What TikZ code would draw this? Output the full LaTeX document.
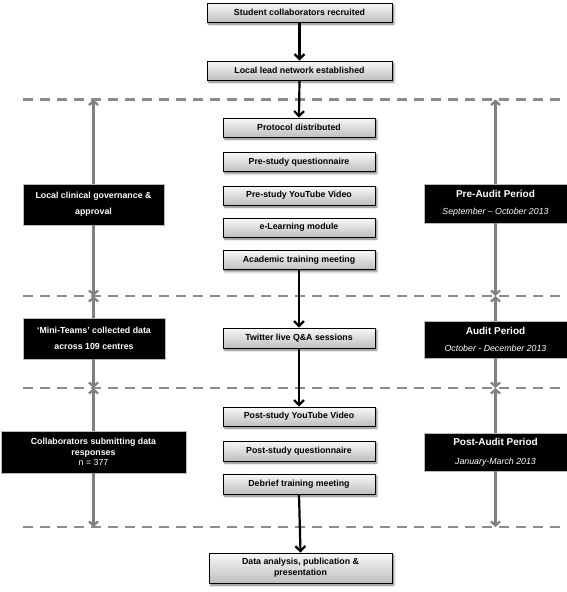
\documentclass[tikz,border=0pt]{standalone}
\usepackage{fontspec}
\setmainfont{Liberation Sans}
\usetikzlibrary{arrows.meta,shadows.blur}
\tikzset{
 cbox/.style={draw=black, line width=0.8pt, top color=gray!6, bottom color=gray!50,
   font=\fontsize{8.8}{11}\selectfont\bfseries, align=center, inner sep=0pt,
   blur shadow={shadow xshift=1.8pt, shadow yshift=-2pt, shadow blur steps=4, shadow opacity=55}},
 bbox/.style={fill=black, draw=gray!55, line width=0.6pt, text=white, align=center, inner sep=0pt},
 dline/.style={draw=gray!90, line width=2.5pt, dash pattern=on 10pt off 7pt},
 garrow/.style={draw=gray, line width=2.3pt, -{Straight Barb[length=4pt,width=9pt]}},
 karrow/.style={draw=black, line width=2.2pt, -{Straight Barb[length=5pt,width=10pt]}},
}
\begin{document}
\begin{tikzpicture}[x=1pt,y=-1pt]
\useasboundingbox (0,0) rectangle (567,592);
% dashed period separators
\coordinate (d1a) at (23,99.5);  \coordinate (d1b) at (570,99.5);
\coordinate (d2a) at (23,296);   \coordinate (d2b) at (570,296);
\coordinate (d3a) at (23,388);   \coordinate (d3b) at (570,388);
\coordinate (d4a) at (23,527);   \coordinate (d4b) at (570,527);
\draw[dline] (d1a) -- (d1b);
\draw[dline] (d2a) -- (d2b);
\draw[dline] (d3a) -- (d3b);
\draw[dline] (d4a) -- (d4b);
% central boxes
\node[cbox, minimum width=185pt, minimum height=19pt] (b1) at (299.5,12.5) {Student collaborators recruited};
\node[cbox, minimum width=185pt, minimum height=19pt] (b2) at (299.5,70.5) {Local lead network established};
\node[cbox, minimum width=152pt, minimum height=19pt] (b3) at (299,127.5) {Protocol distributed};
\node[cbox, minimum width=152pt, minimum height=19pt] (b4) at (299,162) {Pre-study questionnaire};
\node[cbox, minimum width=152pt, minimum height=19pt] (b5) at (299,195.5) {Pre-study YouTube Video};
\node[cbox, minimum width=152pt, minimum height=19pt] (b6) at (299,227.5) {e-Learning module};
\node[cbox, minimum width=152pt, minimum height=19pt] (b7) at (299,260) {Academic training meeting};
\node[cbox, minimum width=152pt, minimum height=20pt] (b8) at (299,338) {Twitter live Q\&A sessions};
\node[cbox, minimum width=152pt, minimum height=19pt] (b9) at (299,416.5) {Post-study YouTube Video};
\node[cbox, minimum width=152pt, minimum height=20pt] (b10) at (299,451) {Post-study questionnaire};
\node[cbox, minimum width=152pt, minimum height=20pt] (b11) at (299,484) {Debrief training meeting};
\node[cbox, minimum width=183pt, minimum height=30pt] (b12) at (300.5,568) {Data analysis, publication \&\\presentation};
% black arrows
\draw[karrow] (b1.south) -- (b2.north);
\draw[karrow] (b2.south) -- (b3.north);
\draw[karrow] (b7.south) -- (b8.north);
\draw[karrow] (b8.south) -- (b9.north);
\draw[karrow] (b11.south) -- (b12.north);
% left black boxes
\node[bbox, minimum width=141pt, minimum height=41pt, font=\fontsize{8.8}{16}\selectfont\bfseries] (l1) at (93.5,204.5) {Local clinical governance \&\\approval};
\node[bbox, minimum width=142pt, minimum height=41pt, font=\fontsize{8.8}{16}\selectfont\bfseries] (l2) at (94,338.5) {`Mini-Teams' collected data\\across 109 centres};
\node[bbox, minimum width=185pt, minimum height=42pt, font=\fontsize{8.8}{10.5}\selectfont] (l3) at (93.5,452) {\textbf{Collaborators submitting data}\\\textbf{responses}\\n = 377};
% right black boxes
\node[bbox, minimum width=143pt, minimum height=39pt] (r1) at (495.5,203.5) {{\fontsize{10}{11}\selectfont\bfseries Pre-Audit Period}\\[5pt]{\fontsize{8.8}{10}\selectfont\itshape September -- October 2013}};
\node[bbox, minimum width=143pt, minimum height=37pt] (r2) at (495.5,339.5) {{\fontsize{10}{11}\selectfont\bfseries Audit Period}\\[5pt]{\fontsize{8.8}{10}\selectfont\itshape October - December 2013}};
\node[bbox, minimum width=143pt, minimum height=38pt] (r3) at (495.5,452) {{\fontsize{10}{11}\selectfont\bfseries Post-Audit Period}\\[7pt]{\fontsize{8.8}{10}\selectfont\itshape January-March 2013}};
% gray arrow endpoints
\coordinate (la1) at (93.5,99.5);  \coordinate (la2) at (93.5,296);
\coordinate (la3) at (93.5,388);   \coordinate (la4) at (93.5,527);
\coordinate (ra1) at (495.5,99.5); \coordinate (ra2) at (495.5,296);
\coordinate (ra3) at (495.5,388);  \coordinate (ra4) at (495.5,527);
\draw[garrow] (l1.north) -- (la1);
\draw[garrow] (l1.south) -- (la2);
\draw[garrow] (l2.north -| la2) -- (la2);
\draw[garrow] (l2.south -| la3) -- (la3);
\draw[garrow] (l3.north) -- (la3);
\draw[garrow] (l3.south) -- (la4);
\draw[garrow] (r1.north) -- (ra1);
\draw[garrow] (r1.south) -- (ra2);
\draw[garrow] (r2.north) -- (ra2);
\draw[garrow] (r2.south) -- (ra3);
\draw[garrow] (r3.north) -- (ra3);
\draw[garrow] (r3.south) -- (ra4);
\end{tikzpicture}
\end{document}
